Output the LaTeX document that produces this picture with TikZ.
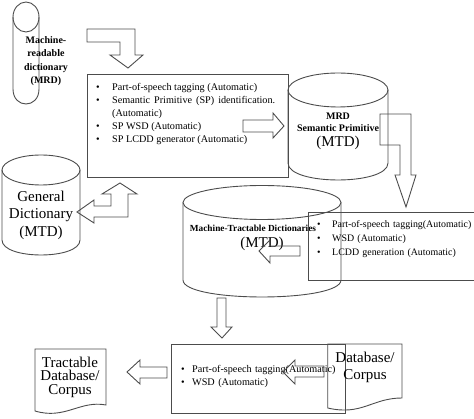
\documentclass[tikz,border=0pt]{standalone}
\usepackage{fontspec}
\setmainfont{Liberation Serif}
\usepackage{tikz}

\tikzset{
  outline/.style={draw=black!70, line width=0.9pt},
  bigtxt/.style={font=\fontsize{15}{17.5}\selectfont, align=center, inner sep=0pt},
  boldtxt/.style={font=\fontsize{10}{13.5}\selectfont\bfseries, align=center, inner sep=0pt},
  listtxt/.style={font=\fontsize{10.2}{13}\selectfont, align=justify, inner sep=0pt, anchor=north west},
}
\newcommand{\bul}[1][16pt]{\par\noindent\hangindent=#1\hbox to #1{\textbullet\hfil}\ignorespaces}
% cylinder: centre x, x radius, top y, bottom y, y radius
\newcommand{\dbcyl}[5]{%
  \draw[outline] (#1,#3) ellipse [x radius=#2pt, y radius=#5pt];
  \draw[outline] ({#1-#2},#3) -- ({#1-#2},#4) .. controls ({#1-#2},{#4+1.333*#5}) and ({#1+#2},{#4+1.333*#5}) .. ({#1+#2},#4) -- ({#1+#2},#3);
}

\begin{document}
\begin{tikzpicture}[x=1pt,y=-1pt]
  \clip (0,0) rectangle (474,419);

  % machine-readable dictionary
  \dbcyl{26}{13}{17}{89}{15}
  \node[boldtxt] (mrd) at (46,61) {Machine-\\readable\\dictionary\\(MRD)};
  \draw[outline] (87,29) -- (135,29) -- (135,55) -- (143,55) -- (128,68) -- (110,55) -- (120,55) -- (120,42) -- (87,42) -- cycle;

  % first processing box
  \draw[outline] (87,74) rectangle (288,177);
  \node[listtxt, text width=179pt] (spsteps) at (96,77) {\bul Part-of-speech tagging (Automatic)\bul Semantic Primitive (SP) identification.\linebreak (Automatic)\bul SP WSD (Automatic)\bul SP LCDD generator (Automatic)};
  \draw[outline] (243,120) -- (273,120) -- (273,113) -- (284,126) -- (273,138) -- (273,132) -- (243,132) -- cycle;

  % MRD semantic primitive
  \dbcyl{338}{50}{90}{163}{17}
  \node[boldtxt, font=\fontsize{10}{12}\selectfont\bfseries] (spname) at (338,122) {MRD\\Semantic Primitive};
  \node[bigtxt] (spmtd) at (338,143) {(MTD)};
  \draw[outline] (380,114) -- (411,114) -- (411,175) -- (416,175) -- (406,207) -- (395,175) -- (400,175) -- (400,145) -- (380,145) -- cycle;

  % general dictionary
  \dbcyl{41}{39}{170}{240}{15}
  \node[bigtxt] (gendict) at (41,215) {General\\Dictionary\\(MTD)};
  \draw[outline] (120,183) -- (137,194) -- (128,194) -- (128,217) -- (94,217) -- (94,223) -- (77,212) -- (94,200) -- (94,206) -- (111,206) -- (111,194) -- (102,194) -- cycle;

  % machine-tractable dictionaries
  \dbcyl{262}{79}{202.5}{280}{17}
  \node[boldtxt, font=\fontsize{9.3}{11}\selectfont\bfseries] (mtdname) at (253,228) {Machine-Tractable Dictionaries};
  \node[bigtxt] (mtdlbl) at (262,244) {(MTD)};

  % second processing box
  \draw[outline] (308,212) rectangle (480,280);
  \node[listtxt, align=left, text width=200pt, font=\fontsize{9.9}{14}\selectfont] (mtdsteps) at (317,213) {\bul[15pt] Part-of-speech tagging(Automatic)\bul[15pt] WSD (Automatic)\bul[15pt] LCDD generation (Automatic)};
  \draw[outline] (300,246) -- (270,246) -- (270,240) -- (259,251) -- (270,263) -- (270,256) -- (300,256) -- cycle;

  % down to the corpus box
  \draw[outline] (217,298) -- (226,298) -- (226,327) -- (232,327) -- (222,338) -- (211,327) -- (217,327) -- cycle;

  % third processing box
  \draw[outline] (171,344) rectangle (345.7,413);
  \node[listtxt, align=left, text width=170pt] (corpussteps) at (181,359) {\bul[11pt] Part-of-speech tagging(Automatic)\bul[11pt] WSD (Automatic)};
  \draw[outline] (324,366) -- (295,366) -- (295,360) -- (283,372) -- (295,384) -- (295,377) -- (324,377) -- cycle;

  % database / corpus
  \draw[outline] (327.7,344) -- (402,344) -- (402,398) .. controls (372,398) and (362,416) .. (327.7,408) -- cycle;
  \node[bigtxt, font=\fontsize{15}{17}\selectfont] (corpus) at (365,367) {Database/\\Corpus};

  % tractable database
  \draw[outline] (167,367) -- (140,367) -- (140,360) -- (127,372) -- (140,384) -- (140,378) -- (167,378) -- cycle;
  \draw[outline] (35,349) -- (106,349) -- (106,405) .. controls (80,400) and (65,420) .. (35,411) -- cycle;
  \node[bigtxt, font=\fontsize{15}{13.5}\selectfont] (tractable) at (70,377) {Tractable\\Database/\\Corpus};
\end{tikzpicture}
\end{document}
